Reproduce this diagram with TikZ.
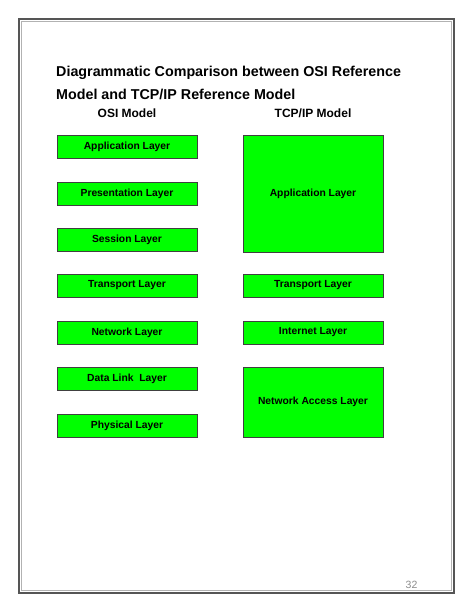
\documentclass[tikz,border=0pt]{standalone}
\usepackage{fontspec}
\setmainfont{Liberation Sans}
\usepackage{tikz}
\usetikzlibrary{calc}

\definecolor{layergreen}{RGB}{0,255,0}
\definecolor{framegray}{RGB}{85,85,85}

\begin{document}
\begin{tikzpicture}[x=1pt,y=1pt,yscale=-1,xscale=1,
  layer/.style={draw=black!75,line width=0.7pt,fill=layergreen,minimum width=140pt,minimum height=23pt,inner sep=0pt,font=\bfseries\fontsize{10.3}{12}\selectfont},
  header/.style={inner sep=0pt,font=\bfseries\fontsize{12}{14}\selectfont},
  titletext/.style={inner sep=0pt,anchor=base west,font=\bfseries\fontsize{14.3}{23}\selectfont}]
  \useasboundingbox (0,0) rectangle (474,613);

  %Shape: Rectangle [id:frame]
  \draw [framegray,line width=2.4pt] (19,19) -- (454,19) -- (454,593) -- (19,593) -- cycle ;
  \draw [black!30,line width=1pt] (21.7,21.7) -- (451.3,21.7) -- (451.3,590.3) -- (21.7,590.3) -- cycle ;

  % Text Node
  \node [titletext] (title1) at (56,76) {Diagrammatic Comparison between OSI Reference};
  % Text Node
  \node [titletext] (title2) at (56,99) {Model and TCP/IP Reference Model};
  % Text Node
  \node [header,anchor=base] (osihead) at (127,117.3) {OSI Model};
  % Text Node
  \node [header,anchor=base] (tcphead) at (313,117.3) {TCP/IP Model};

  %Shape: Rectangle [id:osi layers]
  \node [layer] (osiapp) at (127,146.5) {Application Layer};
  \node [layer] (osipres) at (127,193.5) {Presentation Layer};
  \node [layer] (osisess) at (127,240) {Session Layer};
  \node [layer] (ositrans) at (127,285.5) {Transport Layer};
  \node [layer] (osinet) at (127,332.5) {Network Layer};
  \node [layer] (osidata) at (127,379) {Data Link~ Layer};
  \node [layer] (osiphys) at (127,425.5) {Physical Layer};

  %Shape: Rectangle [id:tcp layers]
  \node [layer,minimum height=117pt] (tcpapp) at (313,193.5) {Application Layer};
  \node [layer] (tcptrans) at (313,285.5) {Transport Layer};
  \node [layer] (tcpnet) at (313,332.5) {Internet Layer};
  \node [layer,minimum height=70pt] (tcpacc) at (313,402) {Network Access Layer};

  % Text Node
  \node [inner sep=0pt,anchor=base,text=black!45,font=\fontsize{10.5}{12}\selectfont] (pagenum) at (411.5,588.5) {32};

\end{tikzpicture}
\end{document}
